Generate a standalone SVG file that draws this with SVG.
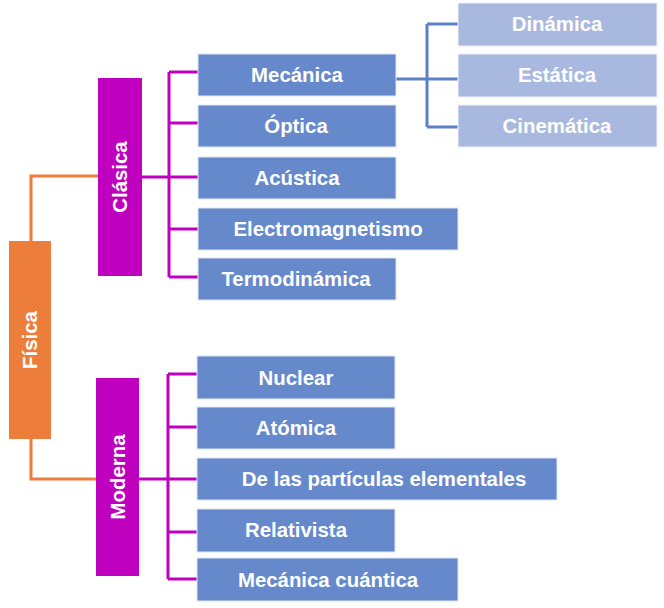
<svg xmlns="http://www.w3.org/2000/svg" width="664" height="608" viewBox="0 0 664 608">
<style>
.t{font-family:"Liberation Sans",Arial,sans-serif;font-weight:bold;font-size:20.4px;fill:#fff;text-anchor:middle}
.b{fill:#6589CB;stroke:#dfe6f4;stroke-width:1}
.lb{fill:#A9B8DE;stroke:#eef1f9;stroke-width:1}
.m{fill:#BF00BF}
.o{fill:#EC7D3A}
.cm{fill:none;stroke:#BF00BF;stroke-width:3}
.co{fill:none;stroke:#EC7D3A;stroke-width:3}
.cb{fill:none;stroke:#5B80C8;stroke-width:3}
</style>
<g id="connectors">
<path class="co" d="M31 241 V176 H99"/>
<path class="co" d="M31 439 V479 H96"/>
<path class="cm" d="M142 177 H169 M169 72 V277 M169 72 H198 M169 123 H198 M169 177 H198 M169 229 H198 M169 277 H198"/>
<path class="cm" d="M139 479 H168 M168 374 V579 M168 374 H198 M168 427 H198 M168 479 H198 M168 532 H198 M168 579 H198"/>
<path class="cb" d="M396 79 H458 M427 24 V127 M427 24 H458 M427 127 H458"/>
</g>
<g id="fisica"><rect class="o" x="9" y="241" width="42" height="198"/><text class="t" transform="translate(30 340) rotate(-90)" y="7">Física</text></g>
<g id="clasica"><rect class="m" x="98" y="78" width="44" height="198"/><text class="t" transform="translate(120 177) rotate(-90)" y="7">Clásica</text></g>
<g id="moderna"><rect class="m" x="96" y="378" width="43" height="198"/><text class="t" transform="translate(117.5 477) rotate(-90)" y="7">Moderna</text></g>
<g id="mecanica"><rect class="b" x="198" y="54" width="198" height="42"/><text class="t" x="297" y="82">Mecánica</text></g>
<g id="optica"><rect class="b" x="198" y="105" width="198" height="42"/><text class="t" x="296" y="133">Óptica</text></g>
<g id="acustica"><rect class="b" x="198" y="157" width="198" height="42"/><text class="t" x="297" y="185">Acústica</text></g>
<g id="electromagnetismo"><rect class="b" x="198" y="208" width="260" height="42"/><text class="t" x="328" y="236">Electromagnetismo</text></g>
<g id="termodinamica"><rect class="b" x="198" y="258" width="198" height="42"/><text class="t" x="296" y="286">Termodinámica</text></g>
<g id="dinamica"><rect class="lb" x="458" y="3" width="199" height="43"/><text class="t" x="557" y="31">Dinámica</text></g>
<g id="estatica"><rect class="lb" x="458" y="54" width="199" height="43"/><text class="t" x="557" y="82">Estática</text></g>
<g id="cinematica"><rect class="lb" x="458" y="105" width="199" height="42"/><text class="t" x="557" y="133">Cinemática</text></g>
<g id="nuclear"><rect class="b" x="197" y="356" width="198" height="43"/><text class="t" x="296" y="385">Nuclear</text></g>
<g id="atomica"><rect class="b" x="197" y="407" width="198" height="42"/><text class="t" x="296" y="435">Atómica</text></g>
<g id="particulas"><rect class="b" x="197" y="458" width="360" height="42"/><text class="t" x="384" y="486">De las partículas elementales</text></g>
<g id="relativista"><rect class="b" x="197" y="509" width="198" height="43"/><text class="t" x="296" y="537">Relativista</text></g>
<g id="cuantica"><rect class="b" x="197" y="558" width="261" height="43"/><text class="t" x="328" y="587">Mecánica cuántica</text></g>
</svg>
